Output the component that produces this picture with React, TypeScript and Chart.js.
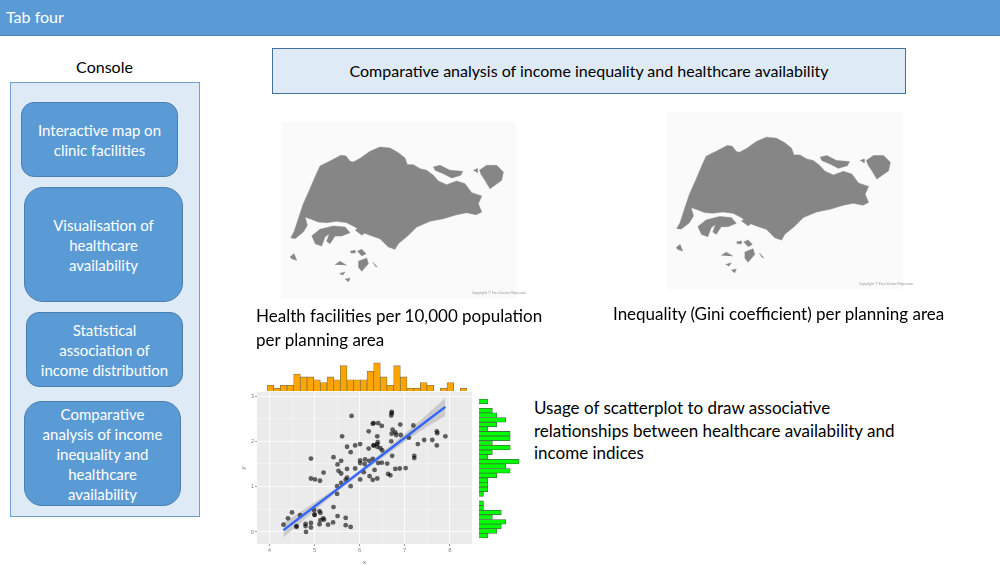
import React, { useEffect, useRef } from "react";
import { Chart, registerables } from "chart.js";

Chart.register(...registerables);

// ---------- scatterplot data ----------
const scatterX = [4.31,4.41,4.50,4.60,4.60,4.68,4.80,4.80,4.81,4.92,4.92,5.00,4.99,5.00,5.11,5.13,5.11,5.13,5.19,5.21,5.30,5.41,5.42,5.51,5.69,5.69,5.80,
  4.92,4.92,5.01,5.12,5.20,5.42,5.50,5.50,5.51,5.59,5.53,5.59,5.59,5.69,5.72,5.72,5.80,5.90,6.01,6.09,6.01,6.01,6.12,6.11,6.21,6.29,6.22,6.29,6.33,6.39,6.41,6.49,6.61,6.63,6.68,6.79,6.89,7.02,6.72,6.50,6.46,6.39,6.40,6.39,6.31,6.31,6.20,6.01,5.90,5.80,5.72,5.61,5.82,6.20,6.29,6.31,6.41,6.49,6.39,6.70,6.71,6.73,6.79,6.81,6.91,6.90,6.70,6.71,6.71,7.19,7.09,7.29,7.43,7.61,7.71,7.72,7.71,7.90,7.21,7.21];
const scatterY = [0.16,0.30,0.43,0.11,0.13,0.37,0.18,0.13,0,0.20,0.10,0.38,0.48,0.38,0.46,0.42,0.17,0.26,0.30,0.27,0.16,0.21,0.55,0.35,0.31,0.15,0.11,
  1.62,1.18,1.16,1.13,1.31,1.65,0.84,1.01,1.49,1.57,1.35,1.29,1.08,1.15,1.20,1.39,1.01,1.40,1.16,1.32,1.52,1.58,1.60,1.50,1.57,1.61,1.23,1.15,1.37,1.18,1.52,1.53,1.51,1.28,1.25,1.39,1.40,1.41,1.68,1.80,1.85,1.94,1.98,1.88,1.91,1.91,1.84,1.94,1.91,1.76,1.88,2.11,2.56,2.22,2.39,2.40,2.40,2.34,2.11,2.00,2.17,2.26,2.20,2.14,2.14,2.37,2.57,2.62,2.65,2.35,2.08,1.94,2.03,2.03,2.22,2.18,1.91,2.11,1.68,1.63];
const fitX = [4.31,5,5.5,6,6.5,7,7.5,7.9];
const fitY = [0.04,0.56,0.94,1.32,1.70,2.08,2.46,2.76];
const fitUpper = [0.20,0.65,0.98,1.36,1.76,2.17,2.60,2.96];
const fitLower = [-0.12,0.47,0.89,1.27,1.63,1.99,2.33,2.56];

// ---------- marginal histograms ----------
const xBins = ["4.01","4.16","4.30","4.45","4.59","4.74","4.88","5.03","5.17","5.32","5.46","5.61","5.75","5.90","6.04","6.19","6.33","6.48","6.62","6.77","6.91","7.06","7.20","7.35","7.49","7.64","7.78","7.93","8.07","8.22"];
const xCounts = [2,1,2,2,6,5,5,4,3,5,4,9,4,4,4,7,10,5,2,9,5,1,1,3,2,0,1,3,0,1];
const yBins = ["2.93","2.83","2.73","2.62","2.52","2.42","2.32","2.21","2.11","2.01","1.91","1.80","1.70","1.60","1.50","1.39","1.29","1.19","1.09","0.98","0.88","0.78","0.68","0.57","0.47","0.37","0.27","0.16","0.06","-0.04"];
const yCounts = [2,0,3,4,6,4,2,7,7,3,7,3,2,9,6,7,4,2,2,2,1,0,1,1,5,3,6,5,4,2];

// ---------- map outlines (map units) ----------
type Pt = [number, number];
const mainIsland: Pt[] = [[62,368],[72,350],[85,310],[100,265],[118,225],[135,185],[150,152],[180,137],[213,120],[228,122],[240,138],[250,140],[272,128],[300,108],[330,95],[360,98],[385,112],[405,128],[412,148],[430,148],[450,160],[470,165],[490,180],[505,197],[530,208],[560,197],[585,205],[605,232],[635,242],[625,265],[635,290],[618,298],[590,292],[560,298],[520,310],[480,318],[440,335],[415,360],[385,385],[375,402],[355,395],[330,370],[300,360],[275,350],[255,335],[230,322],[200,318],[170,322],[145,320],[120,310],[105,305],[112,330],[100,350],[75,370]];
const jurong: Pt[] = [[125,362],[150,342],[190,332],[225,335],[240,352],[215,362],[195,362],[180,385],[170,378],[178,355],[165,365],[155,392],[135,385]];
const brani: Pt[] = [[255,345],[270,338],[285,352],[275,360]];
const ubin: Pt[] = [[490,155],[510,150],[540,165],[578,168],[572,180],[545,188],[520,175],[495,165]];
const tekong: Pt[] = [[628,165],[650,150],[680,150],[700,170],[695,195],[660,220],[645,195],[632,175]];
const tekongKechil: Pt[] = [[610,165],[622,160],[622,172]];
const southA: Pt[] = [[240,408],[255,405],[255,413],[243,413]];
const southB: Pt[] = [[262,408],[275,402],[288,415],[275,422]];
const southC: Pt[] = [[195,448],[210,438],[230,450]];
const southD: Pt[] = [[265,438],[290,428],[295,445],[275,468],[265,455]];
const southE: Pt[] = [[308,440],[322,455],[315,452]];
const southF: Pt[] = [[208,475],[225,470],[218,480]];
const southG: Pt[] = [[225,492],[240,488],[235,500]];
const westBit: Pt[] = [[60,425],[72,415],[80,435],[65,430]];
const landPieces = [mainIsland, jurong, brani, ubin, tekong, tekongKechil, southA, southB, southC, southD, southE, southF, southG, westBit];

const creekKranji: Pt[] = [[243,140],[232,165],[218,172],[205,172]];
const creekKranjiA: Pt[] = [[222,172],[232,196]];
const creekKranjiB: Pt[] = [[218,175],[212,195]];
const creekSeletar: Pt[] = [[410,148],[440,170],[430,195]];
const creekNorth: Pt[] = [[385,112],[405,135]];
const creekPunggol: Pt[] = [[470,165],[490,188],[465,210],[450,235]];
const creekJurong: Pt[] = [[220,262],[228,285],[222,310],[150,322]];
const creekPandan: Pt[] = [[245,305],[265,330]];
const creekMarina: Pt[] = [[415,310],[405,335],[390,345],[415,345]];
const creekSouth: Pt[] = [[330,372],[360,372],[385,380]];
const creekTekong: Pt[] = [[650,195],[698,180]];
const creeks = [creekKranji, creekKranjiA, creekKranjiB, creekSeletar, creekNorth, creekPunggol, creekJurong, creekPandan, creekMarina, creekSouth, creekTekong];

// ---------- page text ----------
const consoleButtons = [
  { lines: ["Interactive map on", "clinic facilities"], left: 21, top: 102, width: 157, height: 75, radius: 13 },
  { lines: ["Visualisation of", "healthcare", "availability"], left: 24, top: 187, width: 159, height: 115, radius: 19 },
  { lines: ["Statistical", "association of", "income distribution"], left: 26, top: 312, width: 157, height: 75, radius: 13 },
  { lines: ["Comparative", "analysis of income", "inequality and", "healthcare", "availability"], left: 24, top: 401, width: 157, height: 105, radius: 18 },
];

const FONT = "Lato, 'Open Sans', sans-serif";
const toPts = (p: Pt[]) => p.map(([x, y]) => ({ x, y }));
const zip = (xs: number[], ys: number[]) => xs.map((x, i) => ({ x, y: ys[i] }));

function ChartCanvas({ config, left, top, width, height, blur = 0.5 }: any) {
  const ref = useRef<HTMLCanvasElement>(null);
  useEffect(() => {
    const chart = new Chart(ref.current as HTMLCanvasElement, config());
    return () => chart.destroy();
  }, []);
  return (
    <canvas
      ref={ref}
      width={width}
      height={height}
      style={{ position: "absolute", left, top, width, height, filter: `blur(${blur}px)` }}
    />
  );
}

const basePlugins = { legend: { display: false }, tooltip: { enabled: false }, title: { display: false } };

const panelBackground = {
  id: "panelBackground",
  beforeDraw(chart: any) {
    const { ctx, chartArea: a } = chart;
    ctx.save();
    ctx.fillStyle = "#ebebeb";
    ctx.fillRect(a.left, a.top, a.right - a.left, a.bottom - a.top);
    ctx.restore();
  },
};

const isMajor = (v: number) => Math.abs(v - Math.round(v)) < 1e-6;

const gridOpts = {
  color: (c: any) => (c.tick && isMajor(c.tick.value) ? "rgba(255,255,255,0.85)" : "rgba(255,255,255,0.5)"),
  lineWidth: (c: any) => (c.tick && isMajor(c.tick.value) ? 1 : 0.6),
  tickColor: (c: any) => (c.tick && isMajor(c.tick.value) ? "#999999" : "rgba(0,0,0,0)"),
  tickLength: 2,
  drawTicks: true,
};
const tickOpts = {
  stepSize: 0.5,
  includeBounds: false,
  autoSkip: false,
  maxRotation: 0,
  padding: 1,
  color: "#8a8a8a",
  font: { size: 6, family: "Liberation Sans" },
  callback: (v: any) => (isMajor(Number(v)) ? String(Math.round(Number(v))) : ""),
};
const titleOpts = (text: string) => ({
  display: true,
  text,
  color: "#666666",
  font: { size: 6, family: "Liberation Sans" },
  padding: 0,
});

const scatterConfig = () => ({
  type: "line",
  data: {
    datasets: [
      { data: zip(fitX, fitUpper), borderWidth: 0, pointRadius: 0, fill: "+1", backgroundColor: "rgba(153,153,153,0.4)", order: 3 },
      { data: zip(fitX, fitLower), borderWidth: 0, pointRadius: 0, fill: false, order: 3 },
      { data: zip(scatterX, scatterY), showLine: false, pointRadius: 2.4, pointBorderWidth: 0, pointBackgroundColor: "rgba(0,0,0,0.6)", order: 2 },
      { data: zip(fitX, fitY), borderColor: "#3366ff", borderWidth: 2.4, pointRadius: 0, fill: false, order: 1 },
    ],
  },
  options: {
    animation: false,
    responsive: false,
    layout: { padding: { top: 7, right: 0, left: 0, bottom: 0 } },
    plugins: basePlugins,
    scales: {
      x: {
        type: "linear", min: 3.724, max: 8.49,
        grid: gridOpts, border: { display: false }, ticks: tickOpts, title: titleOpts("x"),
        afterFit: (s: any) => { s.height = 22; },
      },
      y: {
        type: "linear", min: -0.266, max: 3.089,
        grid: gridOpts, border: { display: false }, ticks: tickOpts, title: titleOpts("y"),
        afterFit: (s: any) => { s.width = 17; },
      },
    },
  },
  plugins: [panelBackground],
});

const histConfig = (labels: string[], values: number[], horizontal: boolean, fill: string, edge: string, max: number) => () => ({
  type: "bar",
  data: {
    labels,
    datasets: [{ data: values, backgroundColor: fill, borderColor: edge, borderWidth: 0.8, barPercentage: 1, categoryPercentage: 1 }],
  },
  options: {
    animation: false,
    responsive: false,
    indexAxis: horizontal ? "y" : "x",
    plugins: basePlugins,
    scales: horizontal
      ? { x: { display: false, min: 0, max }, y: { display: false } }
      : { y: { display: false, min: 0, max }, x: { display: false } },
  },
});

const mapConfig = () => ({
  type: "line",
  data: {
    datasets: [
      ...landPieces.map((p) => ({
        data: toPts(p), fill: "shape", backgroundColor: "#868686", borderColor: "#868686", borderWidth: 0.5, pointRadius: 0, tension: 0,
      })),
      ...creeks.map((p) => ({
        data: toPts(p), fill: false, borderColor: "#fafafa", borderWidth: 1.2, pointRadius: 0, tension: 0,
      })),
    ],
  },
  options: {
    animation: false,
    responsive: false,
    plugins: basePlugins,
    scales: {
      x: { type: "linear", display: false, min: 33, max: 738 },
      y: { type: "linear", display: false, min: 20, max: 548, reverse: true },
    },
  },
});

const abs = (left: number, top: number, extra: any = {}) => ({ position: "absolute", left, top, ...extra } as React.CSSProperties);

function TextLines({ lines, left, top, step, size, color = "#000" }: any) {
  return (
    <>
      {lines.map((t: string, i: number) => (
        <div key={i} style={abs(left, top + i * step, { fontSize: size, color, whiteSpace: "nowrap", lineHeight: "20px" })}>{t}</div>
      ))}
    </>
  );
}

function MapPanel({ left, top, width, height }: any) {
  return (
    <>
      <div style={abs(left, top, { width, height, background: "#fafafa" })} />
      <ChartCanvas config={mapConfig} left={left} top={top} width={width} height={height} blur={0.4} />
      <div style={abs(left + width - 44, top + height - 7, { fontSize: 3.5, color: "#999", whiteSpace: "nowrap", lineHeight: "4px" })}>
        Copyright © Free Vector Maps.com
      </div>
    </>
  );
}

export default function App() {
  return (
    <div style={abs(0, 0, { width: 1000, height: 566, overflow: "hidden", background: "#fff", fontFamily: FONT })}>
      <div style={abs(0, 0, { width: 1000, height: 35, background: "#5b9bd5", borderBottom: "1.5px solid #4a7fb0" })} />
      <TextLines lines={["Tab four"]} left={6} top={7} step={20} size={16} color="#fff" />

      <div style={abs(0, 57, { width: 209, textAlign: "center", fontSize: 16, lineHeight: "20px", color: "#000" })}>Console</div>
      <div style={abs(10, 82, { width: 190, height: 435, boxSizing: "border-box", width2: 0, background: "#deeaf6", border: "1.5px solid #6f9fc8" })} />
      {consoleButtons.map((b, i) => (
        <div key={i} style={abs(b.left, b.top, {
          width: b.width, height: b.height, boxSizing: "border-box", borderRadius: b.radius,
          background: "#5b9bd5", border: "1.5px solid #4a7fb0", color: "#fff", fontSize: 15,
          lineHeight: "20px", textAlign: "center", display: "flex", flexDirection: "column", justifyContent: "center",
        })}>
          {b.lines.map((t, j) => <div key={j} style={{ whiteSpace: "nowrap" }}>{t}</div>)}
        </div>
      ))}

      <div style={abs(272, 48, {
        width: 634, height: 46, boxSizing: "border-box", background: "#deeaf6", border: "1.5px solid #41719c",
        fontSize: 16, lineHeight: "43px", textAlign: "center", color: "#000", whiteSpace: "nowrap",
      })}>Comparative analysis of income inequality and healthcare availability</div>

      <MapPanel left={281} top={122} width={235} height={176} />
      <MapPanel left={667} top={112} width={236} height={177} />

      <TextLines lines={["Health facilities per 10,000 population", "per planning area"]} left={256} top={306} step={24} size={17} />
      <TextLines lines={["Inequality (Gini coefficient) per planning area"]} left={613} top={304} step={24} size={17} />
      <TextLines lines={["Usage of scatterplot to draw associative", "relationships between healthcare availability and", "income indices"]} left={534} top={398} step={22.5} size={17} />

      <ChartCanvas config={histConfig(xBins, xCounts, false, "#ffa500", "#8f7a3a", 10.3)} left={267} top={362} width={200} height={29} />
      <ChartCanvas config={histConfig(yBins, yCounts, true, "#00ff00", "#3f6f3f", 9.2)} left={479} top={399} width={41} height={139} />
      <ChartCanvas config={scatterConfig} left={240} top={385} width={236} height={181} />
    </div>
  );
}
